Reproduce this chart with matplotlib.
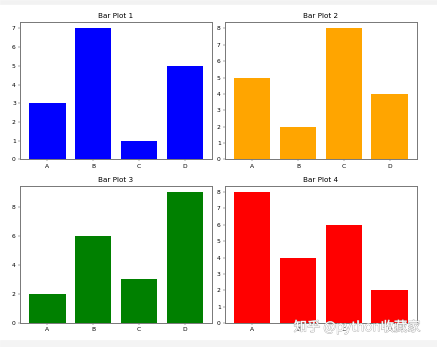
import matplotlib
matplotlib.use('Agg')
import matplotlib.pyplot as plt
import matplotlib.patheffects as pe
from matplotlib.patches import Rectangle

categories = ['A', 'B', 'C', 'D']
values1 = [3, 7, 1, 5]
values2 = [5, 2, 8, 4]
values3 = [2, 6, 3, 9]
values4 = [8, 4, 6, 2]

titles = ['Bar Plot 1', 'Bar Plot 2', 'Bar Plot 3', 'Bar Plot 4']
colors = ['blue', 'orange', 'green', 'red']
series = [values1, values2, values3, values4]

plt.rcParams['font.family'] = ['DejaVu Sans', 'Noto Sans CJK SC']

# 10x8-inch layout rendered at a small dpi
fig, axes = plt.subplots(2, 2, figsize=(10, 347 / 43.7), dpi=43.7)
fig.subplots_adjust(left=0.046, right=0.954, top=0.937, bottom=0.069,
                    wspace=0.068, hspace=0.19)

for ax, vals, title, c in zip(axes.flat, series, titles, colors):
    ax.bar(categories, vals, color=c)
    ax.set_title(title, fontsize=12)
    ax.tick_params(labelsize=10, color='#555555')
    for s in ax.spines.values():
        s.set_color('#777777')
        s.set_linewidth(1.6)

# light strips at the top and bottom edges
fig.patches.append(Rectangle((0, 1 - 4 / 347), 1, 4 / 347, transform=fig.transFigure,
                             color='#f2f2f2', zorder=-1))
fig.patches.append(Rectangle((0, 0), 1, 7 / 347, transform=fig.transFigure,
                             color='#f4f4f4', zorder=-1))

fig.text(0.672, 1 - 327 / 347, '知乎 @python收藏家', fontsize=22, color='white',
         va='center', ha='left', family=['Noto Sans CJK SC', 'DejaVu Sans'],
         path_effects=[pe.withStroke(linewidth=1.3, foreground='#aaaaaa')])

fig.savefig('out.png', dpi=43.7)
